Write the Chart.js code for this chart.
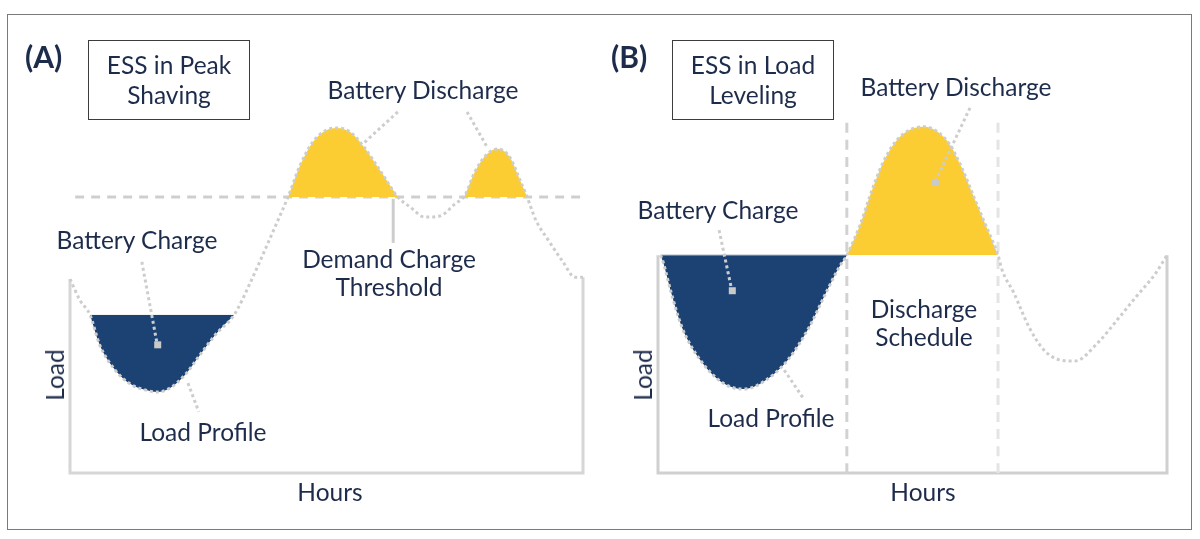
<!DOCTYPE html>
<html>
<head>
<meta charset="utf-8">
<script src="https://cdn.jsdelivr.net/npm/chart.js@4.4.1/dist/chart.umd.min.js"></script>
<style>
  body { margin:0; background:#fff; }
  #wrap { position:relative; width:1200px; height:539px; overflow:hidden; font-family:Lato, "Open Sans", sans-serif; color:#1e2c4c; }
  #frame { position:absolute; left:7px; top:14px; width:1183px; height:514px; border:1.5px solid #7a7a7a; }
  canvas { position:absolute; top:0; }
  #chartA { left:0; }
  #chartB { left:600px; }
  .t { position:absolute; transform:translate(-50%,-50%); white-space:nowrap; font-size:24.5px; line-height:28px; text-align:center; }
  .panel { position:absolute; font-size:30px; font-weight:bold; }
  .box { position:absolute; border:1.5px solid #3c3c3c; width:160px; height:78px; font-size:24.5px; line-height:30px; text-align:center; display:flex; align-items:center; justify-content:center; }
  .rot { transform:translate(-50%,-50%) rotate(-90deg); }
</style>
</head>
<body>
<div id="wrap">
  <div id="frame"></div>
  <canvas id="chartA" width="600" height="539"></canvas>
  <canvas id="chartB" width="600" height="539"></canvas>

  <div class="panel" style="left:25px;top:38px;">(A)</div>
  <div class="box" style="left:88px;top:40px;">ESS in Peak<br>Shaving</div>
  <div class="t" style="left:423px;top:90px;">Battery Discharge</div>
  <div class="t" style="left:137px;top:240px;">Battery Charge</div>
  <div class="t" style="left:389px;top:273px;">Demand Charge<br>Threshold</div>
  <div class="t" style="left:203px;top:432px;">Load Profile</div>
  <div class="t rot" style="left:55px;top:375px;">Load</div>
  <div class="t" style="left:330px;top:492px;">Hours</div>

  <div class="panel" style="left:611px;top:38px;">(B)</div>
  <div class="box" style="left:672px;top:40px;">ESS in Load<br>Leveling</div>
  <div class="t" style="left:956px;top:87px;">Battery Discharge</div>
  <div class="t" style="left:718px;top:210px;">Battery Charge</div>
  <div class="t" style="left:924px;top:323px;">Discharge<br>Schedule</div>
  <div class="t" style="left:771px;top:418px;">Load Profile</div>
  <div class="t rot" style="left:643px;top:375px;">Load</div>
  <div class="t" style="left:923px;top:492px;">Hours</div>
</div>

<script>
// panel A: peak shaving
const hoursA = [0,1.9,3.9,5.8,8.8,11.7,14.6,17,19.5,22.4,25.3,28.3,32,35.1,38,40.4,42.5,44.8,47.2,49.7,52,54.6,57.3,60.4,63.9,66.3,69.2,72.1,75,77,78.9,81.3,83.4,85.8,87.7,89.1,90.8,93.2,96.1,98.4,100];
const loadA = [52,46.4,42.4,34.3,27.6,23.9,22.3,21.7,22.8,26.3,31.6,37,42.4,50.9,59.8,67.3,74,82.3,88.5,91.7,92.5,91.4,87.4,81.2,74,71.3,68.6,68.9,72.1,74.5,80.7,85.5,86.9,84.5,78.6,74,67.8,62.5,56.6,52.5,52.5];
const thresholdA = 74;
const chargeLevelA = 42.4;
const chargeWindowsA = [[3.9, 32]];
const dischargeWindowsA = [[42.5, 63.9], [77, 89.1]];

// panel B: load leveling
const hoursB = [0.5,1,2.6,4.7,8.3,12.8,16.9,21,25.5,29.7,33,35.6,37.1,39.7,41.7,44,46.6,49.5,52.3,55,57.4,59.7,62.3,64.8,66.8,67.6,69.9,72.9,75.8,79,81.9,86.4,90.2,93.9,97.8,100];
const loadB = [58.4,56.6,48.3,39.1,30.3,24.1,22.5,24.7,30.3,39.1,48.3,55.2,58.4,66.5,74.5,82.6,88.7,92,92.8,91.4,87.9,81.8,73.2,65.1,58.4,54.4,48.3,39.1,33,30.3,30,34.9,41,47.2,53.6,58.4];
const levelB = 58.4;
const scheduleB = [37.1, 66.8];
const scheduleTop = 94;
const chargeWindowsB = [[0.5, 37.1]];
const dischargeWindowsB = [scheduleB];

const NAVY = '#1b4272';
const YELLOW = '#fbcd32';
const LINE = '#cdcdcd';
const CLEAR = 'rgba(0,0,0,0)';

function pts(xs, ys) { return xs.map((x, i) => ({x: x, y: ys[i]})); }
function part(xs, ys, w) { return pts(xs, ys).filter(p => p.x >= w[0] && p.x <= w[1]); }

// leader lines: [x1,y1,x2,y2] in chart units
const leadersA = [
  {p:[63.9,96.8,57.3,88.5], dash:true},
  {p:[77.4,96.8,81.3,87.4], dash:true},
  {p:[14,56.6,17,34.5], dash:true, square:true},
  {p:[63,73.5,63,61.7], dash:false},
  {p:[23,24.1,25.1,16.4], dash:true}
];
const leadersB = [
  {p:[61.3,97.9,54.4,78], dash:true, square:true},
  {p:[12,65.1,14.5,49], dash:true, square:true},
  {p:[24.8,27.6,28.5,20.1], dash:true}
];

const leaderPlugin = {
  id: 'leaders',
  afterDatasetsDraw(chart, args, opts) {
    const ctx = chart.ctx, xs = chart.scales.x, ys = chart.scales.y;
    ctx.save();
    (opts.list || []).forEach(l => {
      const x1 = xs.getPixelForValue(l.p[0]), y1 = ys.getPixelForValue(l.p[1]);
      const x2 = xs.getPixelForValue(l.p[2]), y2 = ys.getPixelForValue(l.p[3]);
      ctx.strokeStyle = LINE;
      ctx.lineWidth = 3;
      ctx.setLineDash(l.dash ? [3, 3] : []);
      ctx.beginPath(); ctx.moveTo(x1, y1); ctx.lineTo(x2, y2); ctx.stroke();
      if (l.square) { ctx.fillStyle = '#c9c9c9'; ctx.fillRect(x2 - 3, y2 - 3, 7, 7); }
    });
    ctx.restore();
  }
};

function fills(xs, ys, windows, level, color, side) {
  return windows.map(w => ({
    data: part(xs, ys, w), borderWidth: 0.01, borderColor: CLEAR, order: 1,
    fill: side === 'above'
      ? { target: { value: level }, above: color, below: CLEAR }
      : { target: { value: level }, above: CLEAR, below: color }
  }));
}

function baseOptions(pad, leaders) {
  return {
    responsive: false,
    animation: false,
    events: [],
    layout: { padding: pad },
    scales: {
      x: { type: 'linear', min: 0, max: 100, display: false },
      y: { min: 0, max: 100, display: false }
    },
    elements: { point: { radius: 0 }, line: { cubicInterpolationMode: 'monotone' } },
    plugins: { legend: { display: false }, tooltip: { enabled: false }, leaders: { list: leaders } }
  };
}

new Chart(document.getElementById('chartA'), {
  type: 'line',
  data: {
    datasets: [
      { data: pts(hoursA, loadA), borderColor: LINE, borderWidth: 3, borderDash: [3, 3], clip: false, order: 0, fill: false },
      ...fills(hoursA, loadA, dischargeWindowsA, thresholdA, YELLOW, 'above'),
      ...fills(hoursA, loadA, chargeWindowsA, chargeLevelA, NAVY, 'below'),
      { data: [{x: 1, y: thresholdA}, {x: 100, y: thresholdA}], borderColor: '#cfcfcf', borderWidth: 3, borderDash: [9, 7], fill: false, clip: false, order: 2 },
      { data: [{x: 0, y: loadA[0]}, {x: 0, y: 0}, {x: 100, y: 0}, {x: 100, y: loadA[loadA.length - 1]}],
        borderColor: '#d6d6d6', borderWidth: 3, fill: false, clip: false, order: 3, cubicInterpolationMode: 'default', tension: 0 }
    ]
  },
  options: baseOptions({ left: 70, right: 17, top: 100, bottom: 66 }, leadersA),
  plugins: [leaderPlugin]
});

new Chart(document.getElementById('chartB'), {
  type: 'line',
  data: {
    datasets: [
      { data: pts(hoursB, loadB), borderColor: LINE, borderWidth: 3, borderDash: [3, 3], clip: false, order: 0, fill: false },
      ...fills(hoursB, loadB, dischargeWindowsB, levelB, YELLOW, 'above'),
      ...fills(hoursB, loadB, chargeWindowsB, levelB, NAVY, 'below'),
      { data: [{x: hoursB[0], y: levelB}, {x: scheduleB[0], y: levelB}], borderColor: '#c9d0da', borderWidth: 2, fill: false, order: 2 },
      { data: [{x: scheduleB[0], y: 0}, {x: scheduleB[0], y: scheduleTop}], borderColor: '#d2d2d2', borderWidth: 3, borderDash: [10, 7], fill: false, order: 3 },
      { data: [{x: scheduleB[1], y: 0}, {x: scheduleB[1], y: scheduleTop}], borderColor: '#e4e4e4', borderWidth: 3, borderDash: [10, 7], fill: false, order: 3 },
      { data: [{x: 0, y: loadB[0]}, {x: 0, y: 0}, {x: 100, y: 0}, {x: 100, y: loadB[loadB.length - 1]}],
        borderColor: '#d0d0d0', borderWidth: 3, fill: false, clip: false, order: 4, cubicInterpolationMode: 'default', tension: 0 }
    ]
  },
  options: baseOptions({ left: 58, right: 33, top: 100, bottom: 66 }, leadersB),
  plugins: [leaderPlugin]
});
</script>
</body>
</html>
